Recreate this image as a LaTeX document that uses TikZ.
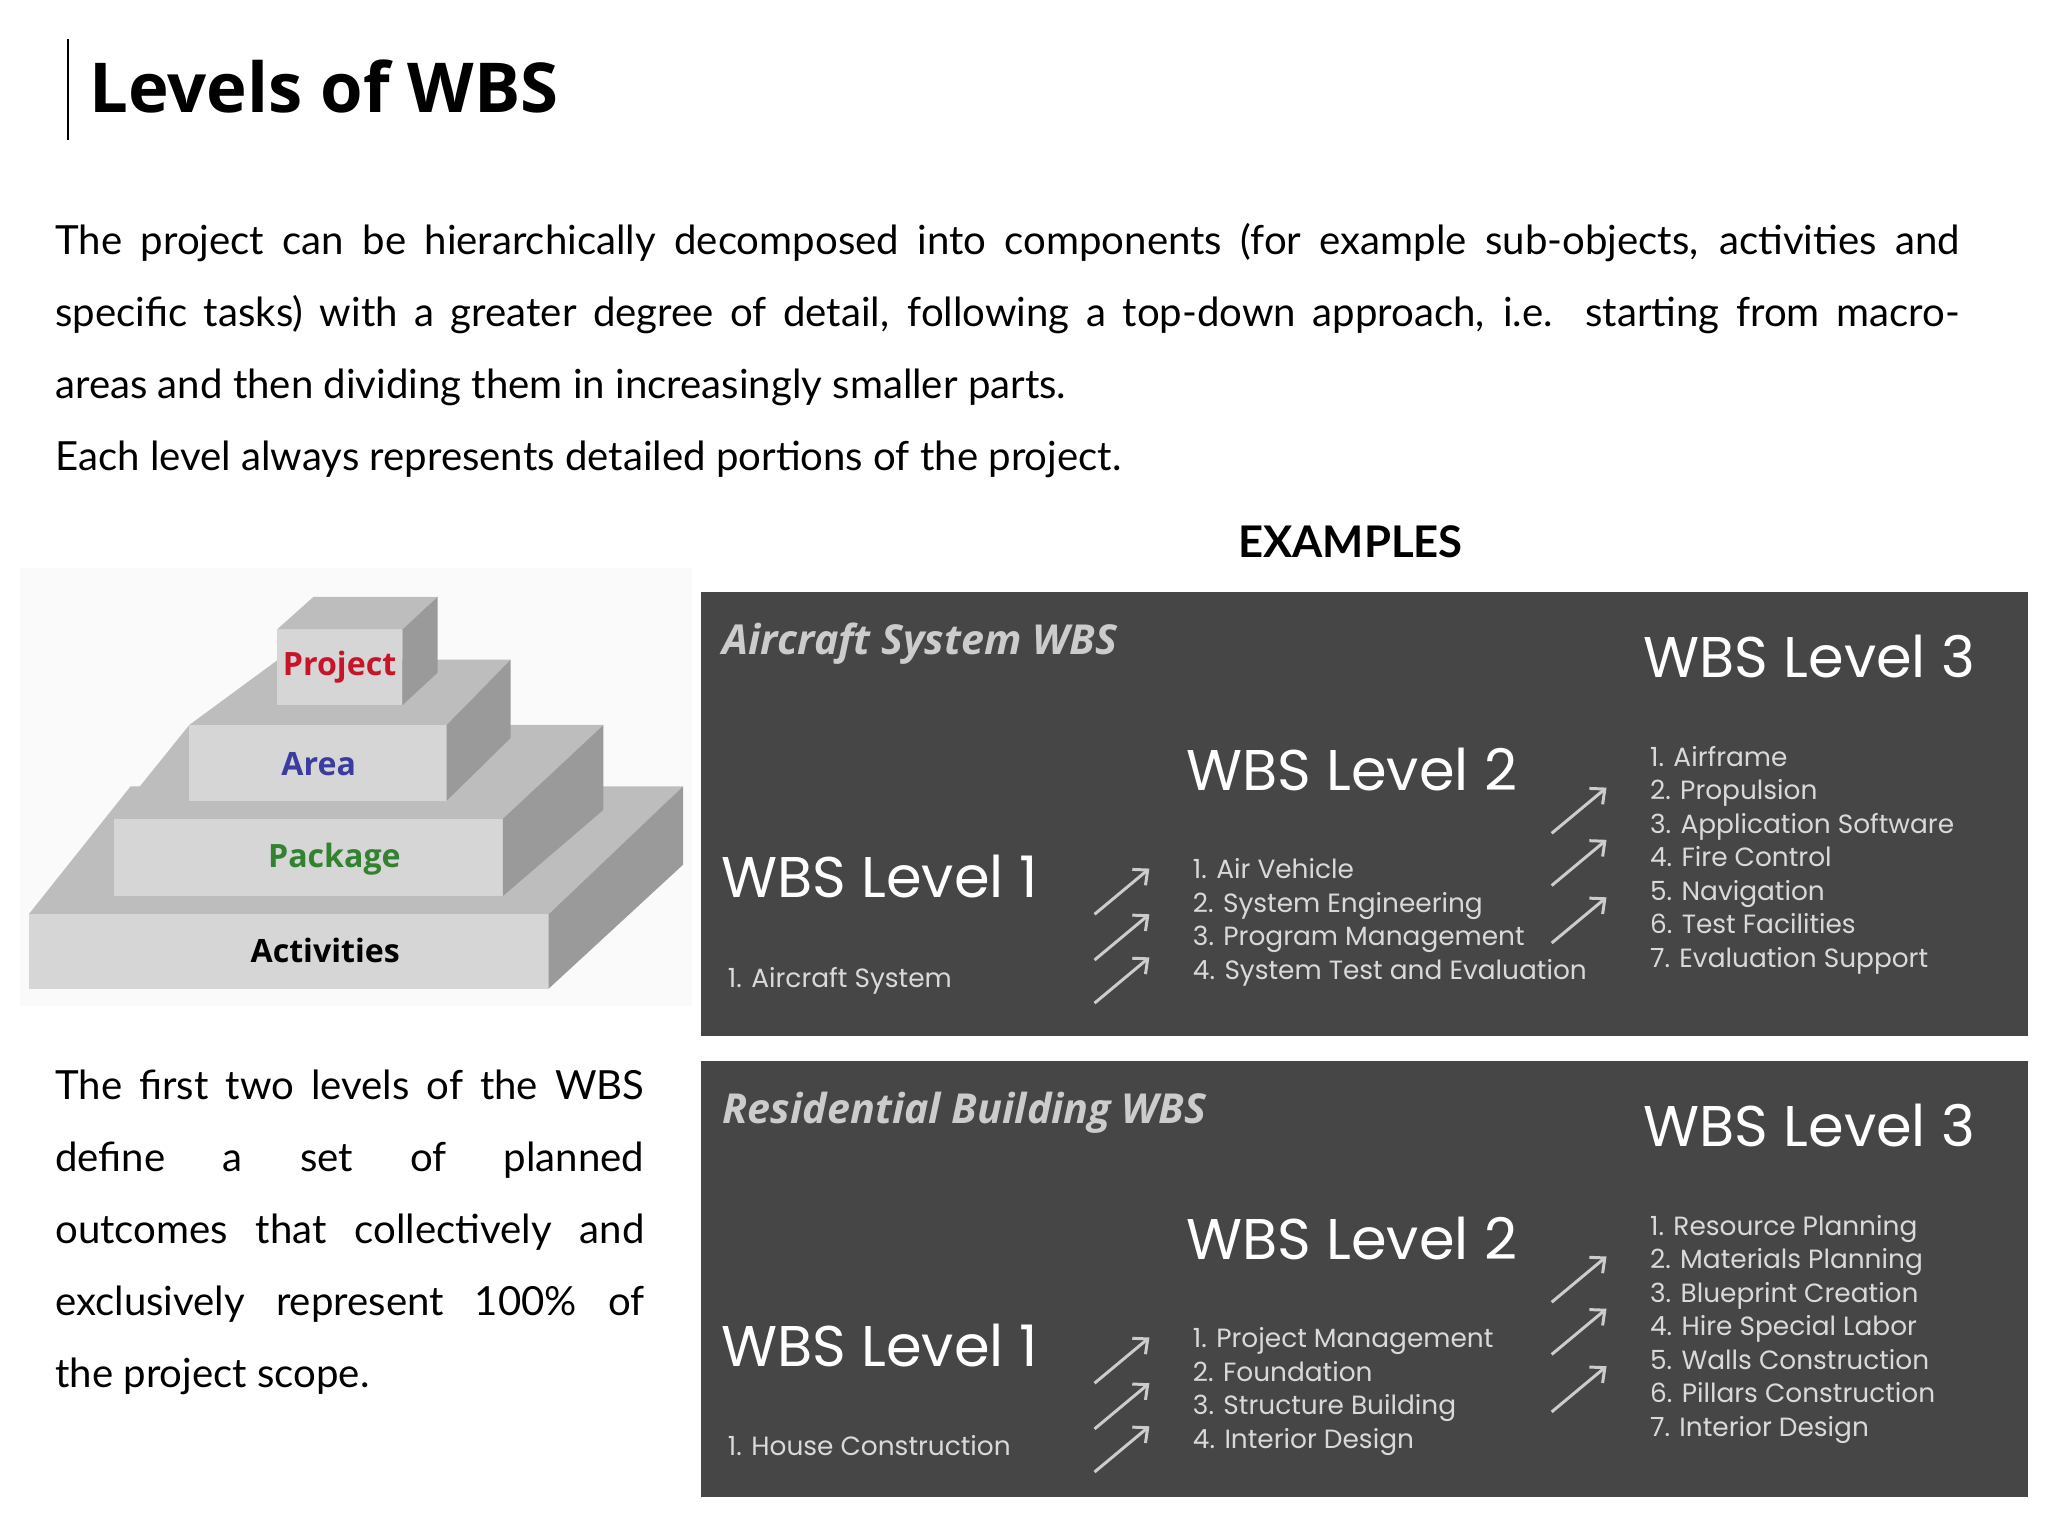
\documentclass[tikz,border=0pt]{standalone}
\usepackage{fontspec}
\setmainfont{Lato}
\newfontfamily\titlefont{Open Sans}
\newfontfamily\boxfont{Poppins}
\usetikzlibrary{arrows.meta}
\definecolor{dark}{HTML}{464646}
\definecolor{topf}{HTML}{BDBDBD}
\definecolor{frontf}{HTML}{D6D6D6}
\definecolor{sidef}{HTML}{9A9A9A}
\tikzset{
 para/.style={anchor=base west,inner sep=0,font=\fontsize{17.5}{20}\selectfont},
 lvl/.style={anchor=base west,inner sep=0,text=white,font=\boxfont\fontsize{25}{28}\selectfont},
 lst/.style={anchor=north west,inner sep=0,text=white!85!black,align=left,font=\boxfont\fontsize{11.5}{14.6}\selectfont},
 btitle/.style={anchor=base west,inner sep=0,text=white!80!black,font=\titlefont\bfseries\itshape\fontsize{18}{20}\selectfont},
 arr/.style={draw=white!80!black,line width=1.3pt,-{Straight Barb[length=5pt,width=9pt]}},
 plab/.style={font=\titlefont\bfseries\fontsize{14}{17}\selectfont},
}
\newcommand{\jline}[1]{\makebox[1458\dimexpr0.02cm\relax][s]{#1}}
\newcommand{\kline}[1]{\makebox[451\dimexpr0.02cm\relax][s]{#1}}
\begin{document}
\begin{tikzpicture}[x=0.02cm,y=-0.02cm]
\useasboundingbox[fill=white] (0,0) rectangle (1568,1176);
% title
\draw[line width=1.2pt] (52,30) -- (52,107);
\node[anchor=base west,inner sep=0,font=\titlefont\bfseries\fontsize{30}{36}\selectfont] (title) at (68,86) {Levels of WBS};
% paragraph
\node[para] (p1) at (42,195) {\jline{The project can be hierarchically decomposed into components (for example sub-objects, activities and}};
\node[para] (p2) at (42,250) {\jline{specific tasks) with a greater degree of detail, following a top-down approach, i.e. starting from macro-}};
\node[para] (p3) at (42,305) {areas and then dividing them in increasingly smaller parts.};
\node[para] (p4) at (42,360) {Each level always represents detailed portions of the project.};
\node[anchor=base,inner sep=0,font=\bfseries\fontsize{19}{22}\selectfont] (ex) at (1034,427) {EXAMPLES};
% pyramid
\fill[white!98!black] (15,435) rectangle (530,770);
\fill[topf] (22,700) -- (100,602) -- (523,602) -- (420,700) -- cycle;
\fill[frontf] (22,700) rectangle (420,757);
\fill[sidef] (420,700) -- (523,602) -- (523,662) -- (420,757) -- cycle;
\fill[topf] (87,627) -- (145,555) -- (462,555) -- (385,627) -- cycle;
\fill[frontf] (87,627) rectangle (385,686);
\fill[sidef] (385,627) -- (462,555) -- (462,620) -- (385,686) -- cycle;
\fill[topf] (145,555) -- (213,505) -- (391,505) -- (342,555) -- cycle;
\fill[frontf] (145,555) rectangle (342,613);
\fill[sidef] (342,555) -- (391,505) -- (391,565) -- (342,613) -- cycle;
\fill[topf] (212,482) -- (240,457) -- (335,457) -- (308,482) -- cycle;
\fill[frontf] (212,482) rectangle (308,540);
\fill[sidef] (308,482) -- (335,457) -- (335,515) -- (308,540) -- cycle;
\node[plab,text={rgb,255:red,200;green,20;blue,40}] (proj) at (260,511) {Project};
\node[plab,text={rgb,255:red,60;green,60;blue,160}] (area) at (244,585) {Area};
\node[plab,text={rgb,255:red,50;green,130;blue,50}] (pack) at (256,658) {Package};
\node[plab] (act) at (249,728) {Activities};
% lower-left paragraph
\node[para] (q1) at (42,842) {\kline{The first two levels of the WBS}};
\node[para] (q2) at (42,897) {\kline{define a set of planned}};
\node[para] (q3) at (42,952) {\kline{outcomes that collectively and}};
\node[para] (q4) at (42,1007) {\kline{exclusively represent 100\% of}};
\node[para] (q5) at (42,1062) {the project scope.};
% boxes
\foreach \dy/\bot/\t/\a/\b/\c in {0/793/Aircraft System WBS/{1. Aircraft System}/{1. Air Vehicle\\2. System Engineering\\3. Program Management\\4. System Test and Evaluation}/{1. Airframe\\2. Propulsion\\3. Application Software\\4. Fire Control\\5. Navigation\\6. Test Facilities\\7. Evaluation Support},
 359/787/Residential Building WBS/{1. House Construction}/{1. Project Management\\2. Foundation\\3. Structure Building\\4. Interior Design}/{1. Resource Planning\\2. Materials Planning\\3. Blueprint Creation\\4. Hire Special Labor\\5. Walls Construction\\6. Pillars Construction\\7. Interior Design}}{
 \begin{scope}[yshift=-\dy*0.02cm]
 \fill[dark] (537,453) rectangle (1553,\bot);
 \node[btitle] (bt\dy) at (553,501) {\t};
 \node[lvl] (l3\dy) at (1258,519) {WBS Level 3};
 \node[lvl] (l2\dy) at (908,605) {WBS Level 2};
 \node[lvl] (l1\dy) at (552,687) {WBS Level 1};
 \node[lst] (la\dy) at (557,740) {\a};
 \node[lst] (lb\dy) at (913,657) {\b};
 \node[lst] (lc\dy) at (1263,571) {\c};
 \foreach \y in {665,700,733}{ \coordinate (s) at (838,\y+35); \coordinate (e) at (880,\y); \draw[arr] (s) -- (e);}
 \foreach \y in {603,643,687}{ \coordinate (s) at (1188,\y+35); \coordinate (e) at (1230,\y); \draw[arr] (s) -- (e);}
 \end{scope}
}
\end{tikzpicture}
\end{document}
